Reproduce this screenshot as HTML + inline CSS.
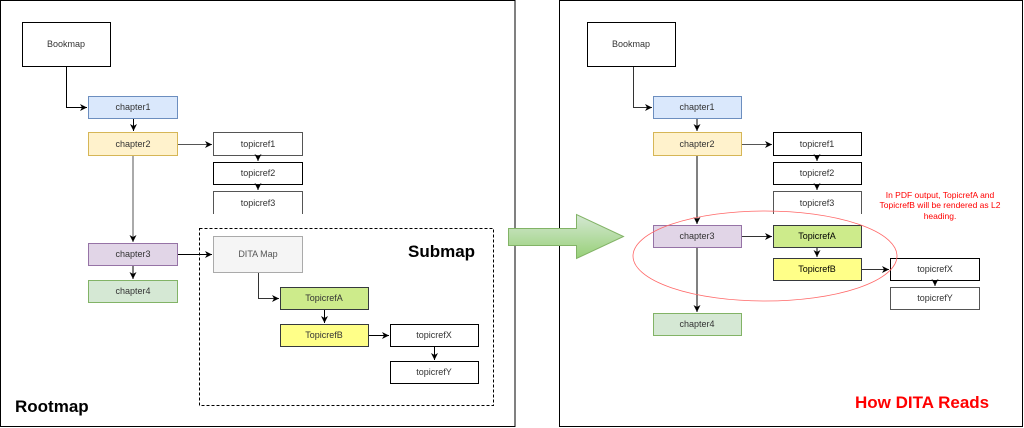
<!DOCTYPE html>
<html><head><meta charset="utf-8"><style>
html,body{margin:0;padding:0;background:#fff;}
svg{display:block;}
text{font-family:"Liberation Sans",Arial,sans-serif;}
</style></head><body>
<svg width="1024" height="428" viewBox="0 0 1024 428" xmlns="http://www.w3.org/2000/svg">
<defs>
<marker id="ar" markerWidth="8" markerHeight="8" refX="7" refY="4" orient="auto" markerUnits="userSpaceOnUse">
<path d="M0,0.5 L7,4 L0,7.5 L2,4 Z" fill="#000"/></marker>
<linearGradient id="g" x1="0" y1="0" x2="0" y2="1"><stop offset="0" stop-color="#d5e8d4"/><stop offset="1" stop-color="#97d077"/></linearGradient>
</defs>
<!-- panels -->
<rect x="0.5" y="0.5" width="514.5" height="426" fill="#fff" stroke="#000" stroke-width="1"/>
<rect x="559.5" y="0.5" width="463" height="426" fill="#fff" stroke="#000" stroke-width="1"/>

<g font-size="9" text-anchor="middle" fill="#333">
<!-- LEFT -->
<rect x="22.5" y="22.5" width="88" height="44" fill="#fff" stroke="#000"/>
<text x="66" y="47">Bookmap</text>
<rect x="88.5" y="96.5" width="89" height="22" fill="#dae8fc" stroke="#6c8ebf"/>
<text x="133" y="110">chapter1</text>
<rect x="88.5" y="132.5" width="89" height="23" fill="#fff2cc" stroke="#d6b656"/>
<text x="133" y="147">chapter2</text>
<rect x="213.5" y="132.5" width="89" height="23" fill="#fff" stroke="#555"/>
<text x="258" y="147">topicref1</text>
<rect x="213.5" y="162.5" width="89" height="22" fill="#fff" stroke="#000"/>
<text x="258" y="176">topicref2</text>
<path d="M213.5,214 V191.5 H302.5 V214" fill="#fff" stroke="#555"/>
<text x="258" y="206">topicref3</text>
<rect x="88.5" y="243.5" width="89" height="22" fill="#e1d5e7" stroke="#9673a6"/>
<text x="133" y="257">chapter3</text>
<rect x="88.5" y="280.5" width="89" height="22" fill="#d5e8d4" stroke="#82b366"/>
<text x="133" y="294">chapter4</text>
<rect x="199.5" y="228.5" width="294" height="177" fill="none" stroke="#000" stroke-dasharray="3,2"/>
<rect x="213.5" y="236.5" width="89" height="36" fill="#f5f5f5" stroke="#aaa"/>
<text x="258" y="257" fill="#555">DITA Map</text>
<rect x="280.5" y="287.5" width="88" height="22" fill="#cdeb8b" stroke="#36393d"/>
<text x="324" y="301">TopicrefA</text>
<rect x="280.5" y="324.5" width="88" height="22" fill="#ffff88" stroke="#36393d"/>
<text x="324" y="338">TopicrefB</text>
<rect x="390.5" y="324.5" width="88" height="22" fill="#fff" stroke="#000"/>
<text x="434" y="338">topicrefX</text>
<rect x="390.5" y="361.5" width="88" height="22" fill="#fff" stroke="#000"/>
<text x="434" y="375">topicrefY</text>

<!-- RIGHT -->
<rect x="587.5" y="22.5" width="88" height="44" fill="#fff" stroke="#000"/>
<text x="631" y="47">Bookmap</text>
<rect x="653.5" y="96.5" width="88" height="22" fill="#dae8fc" stroke="#6c8ebf"/>
<text x="697" y="110">chapter1</text>
<rect x="653.5" y="132.5" width="88" height="23" fill="#fff2cc" stroke="#d6b656"/>
<text x="697" y="147">chapter2</text>
<rect x="773.5" y="132.5" width="88" height="23" fill="#fff" stroke="#000"/>
<text x="817" y="147">topicref1</text>
<rect x="773.5" y="162.5" width="88" height="22" fill="#fff" stroke="#000"/>
<text x="817" y="176">topicref2</text>
<path d="M773.5,214 V191.5 H861.5 V214" fill="#fff" stroke="#555"/>
<text x="817" y="206">topicref3</text>
<rect x="653.5" y="225.5" width="88" height="22" fill="#e1d5e7" stroke="#9673a6"/>
<text x="697" y="239">chapter3</text>
<rect x="773.5" y="225.5" width="88" height="22" fill="#cdeb8b" stroke="#36393d"/>
<text x="817" y="239" fill="#000">TopicrefA</text>
<rect x="773.5" y="258.5" width="88" height="22" fill="#ffff88" stroke="#36393d"/>
<text x="817" y="272" fill="#000">TopicrefB</text>
<rect x="890.5" y="258.5" width="89" height="22" fill="#fff" stroke="#000"/>
<text x="935" y="272">topicrefX</text>
<rect x="890.5" y="287.5" width="89" height="22" fill="#fff" stroke="#555"/>
<text x="935" y="301">topicrefY</text>
<rect x="653.5" y="313.5" width="88" height="22" fill="#d5e8d4" stroke="#82b366"/>
<text x="697" y="327">chapter4</text>
</g>

<!-- connectors left -->
<g stroke="#000" fill="none" stroke-width="1">
<path d="M66.5,67 V107.5 H87" marker-end="url(#ar)"/>
<path d="M133.5,119 V131" marker-end="url(#ar)"/>
<path d="M178,144.5 H212" stroke="#555" marker-end="url(#ar)"/>
<path d="M258,156 V161" marker-end="url(#ar)"/>
<path d="M258,185 V190" marker-end="url(#ar)"/>
<path d="M133,156 V242" stroke="#555" marker-end="url(#ar)"/>
<path d="M133,266 V279" marker-end="url(#ar)"/>
<path d="M178,254.5 H212" marker-end="url(#ar)"/>
<path d="M258.5,273 V298.5 H279" stroke="#333" marker-end="url(#ar)"/>
<path d="M324.5,310 V323" marker-end="url(#ar)"/>
<path d="M369,335.5 H389" marker-end="url(#ar)"/>
<path d="M434.5,347 V360" marker-end="url(#ar)"/>
<!-- right -->
<path d="M633.5,67 V107.5 H652" stroke="#333" marker-end="url(#ar)"/>
<path d="M697,119 V131" marker-end="url(#ar)"/>
<path d="M742,144.5 H772" stroke="#555" marker-end="url(#ar)"/>
<path d="M817,156 V161" marker-end="url(#ar)"/>
<path d="M817,185 V190" marker-end="url(#ar)"/>
<path d="M697,156 V224" marker-end="url(#ar)"/>
<path d="M697,248 V312" marker-end="url(#ar)"/>
<path d="M742,236.5 H772" stroke="#333" marker-end="url(#ar)"/>
<path d="M817,248 V257" marker-end="url(#ar)"/>
<path d="M862,269.5 H889" stroke="#333" marker-end="url(#ar)"/>
<path d="M935,281 V286" marker-end="url(#ar)"/>
</g>

<!-- big arrow -->
<path d="M508.5,228.5 H576.5 V214.5 L623.5,236.5 L576.5,258.5 V245.5 H508.5 Z" fill="url(#g)" stroke="#82b366"/>

<!-- ellipse -->
<ellipse cx="765" cy="256" rx="132" ry="45" fill="none" stroke="#ff6666" stroke-width="0.8"/>

<g font-size="8.5" text-anchor="middle" fill="#ff0000">
<text x="940" y="198">In PDF output,  TopicrefA and</text>
<text x="940" y="208">TopicrefB will be rendered as L2</text>
<text x="940" y="219">heading.</text>
</g>
<text x="15" y="412" font-size="17" font-weight="bold" fill="#000">Rootmap</text>
<text x="408" y="257" font-size="17" font-weight="bold" fill="#000">Submap</text>
<text x="855" y="408" font-size="17" font-weight="bold" fill="#ff0000">How DITA Reads</text>
</svg>
</body></html>
